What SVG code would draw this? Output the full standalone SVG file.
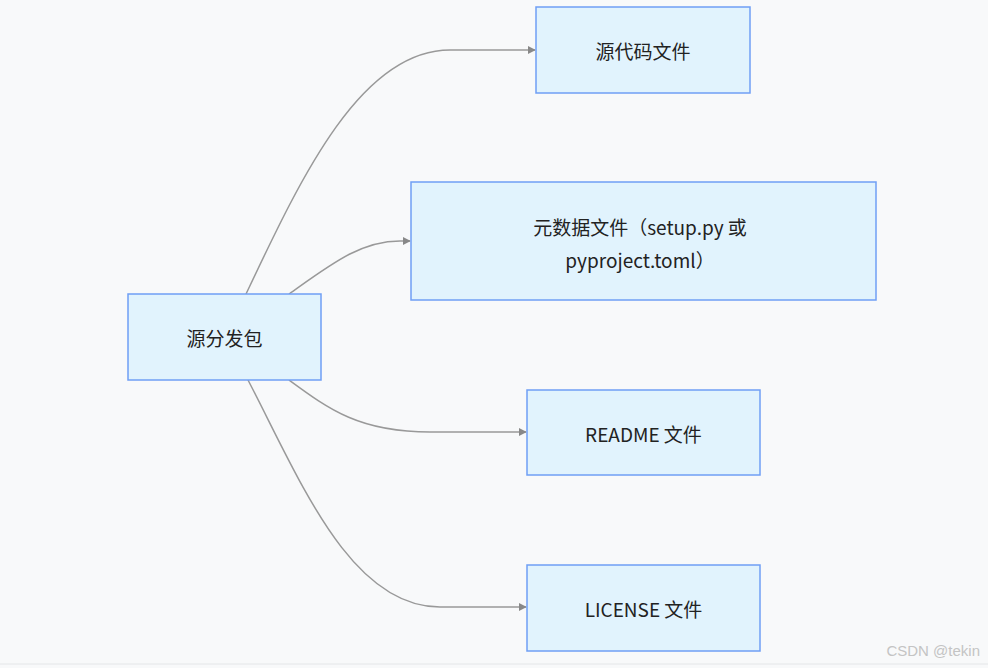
<svg xmlns="http://www.w3.org/2000/svg" width="988" height="668" viewBox="0 0 988 668">
<style>
.n{fill:#e1f3fd;stroke:#6f9ff5;stroke-width:1.5}
.t{font-family:"Noto Sans CJK SC","Noto Sans",sans-serif;font-size:19px;fill:#222;text-anchor:middle;dominant-baseline:central}
.e{fill:none;stroke:#999;stroke-width:1.5;marker-end:url(#a)}
</style>
<defs><marker id="a" viewBox="0 0 10 10" refX="9" refY="5" markerWidth="8" markerHeight="8" orient="auto" markerUnits="userSpaceOnUse"><path d="M0,0L10,5L0,10z" fill="#888"/></marker></defs>
<rect width="988" height="668" fill="#f8f9fa"/>
<line x1="0" y1="664" x2="988" y2="664" stroke="#e4e6e8"/>
<g id="edges">
<path class="e" d="M246,294 C300,180 360,50 450,50 L535,50"/>
<path class="e" d="M289,294 C330,265 360,241 400,241 L410,241"/>
<path class="e" d="M289,380 C330,410 360,432 430,432 L526,432"/>
<path class="e" d="M248,380 C300,480 350,607 440,607 L526,607"/>
</g>
<g id="n0"><rect class="n" x="128" y="294" width="193" height="86"/><text class="t" x="224.5" y="337">源分发包</text></g>
<g id="n1"><rect class="n" x="536" y="7" width="214" height="86"/><text class="t" x="643" y="50">源代码文件</text></g>
<g id="n2"><rect class="n" x="411" y="182" width="465" height="118"/><text class="t" x="640" y="226">元数据文件（setup.py 或</text><text class="t" x="640" y="259">pyproject.toml）</text></g>
<g id="n3"><rect class="n" x="527" y="390" width="233" height="85"/><text class="t" x="643.5" y="433">README 文件</text></g>
<g id="n4"><rect class="n" x="527" y="565" width="233" height="86"/><text class="t" x="643.5" y="608">LICENSE 文件</text></g>
<text x="980" y="656" font-family="Liberation Sans,sans-serif" font-size="15" fill="#c4c4c4" text-anchor="end">CSDN @tekin</text>
</svg>
